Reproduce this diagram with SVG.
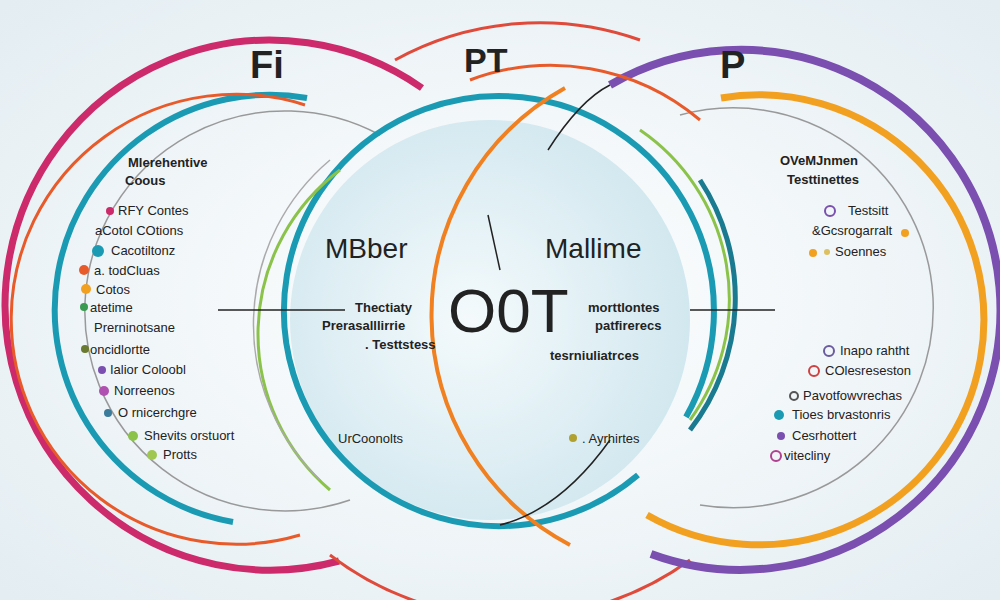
<svg xmlns="http://www.w3.org/2000/svg" width="1000" height="600" viewBox="0 0 1000 600">
<defs>
<radialGradient id="bg" cx="0.5" cy="0.5" r="0.7"><stop offset="0" stop-color="#ffffff"/><stop offset="1" stop-color="#e3edf2"/></radialGradient>
<radialGradient id="mid" cx="0.45" cy="0.5" r="0.6"><stop offset="0" stop-color="#f4fafc"/><stop offset="1" stop-color="#cfe6ee"/></radialGradient>
<style>
.t{font-family:"Liberation Sans",Arial,sans-serif;fill:#222}
.s{font-size:13px}
.h{font-size:13px;font-weight:bold}
.b{font-size:28px}
.r{fill:none}
</style>
</defs>
<rect width="1000" height="600" fill="url(#bg)"/>
<g id="connectors">
<circle cx="490" cy="320" r="200" fill="url(#mid)"/>
<path class="r" d="M422 88 A265 265 0 1 0 339 561" stroke="#cc2a6a" stroke-width="7"/>
<path class="r" d="M307 98 A215 215 0 1 0 233 522" stroke="#1a9bb3" stroke-width="6"/>
<path class="r" d="M305 105 A225 225 0 1 0 300 535" stroke="#e85a2a" stroke-width="3"/>
<path class="r" d="M380 135 A200 200 0 1 0 350 500" stroke="#999" stroke-width="1.5"/>
<path class="r" d="M395 60 A300 300 0 0 1 640 40" stroke="#e04a3a" stroke-width="3"/>
<path class="r" d="M330 555 A300 300 0 0 0 690 560" stroke="#e04a3a" stroke-width="3"/>
<path class="r" d="M610 85 A260 260 0 1 1 651 554" stroke="#7a4fb0" stroke-width="8"/>
<path class="r" d="M721 98 A225 225 0 1 1 647 515" stroke="#f2a020" stroke-width="7"/>
<path class="r" d="M680 115 A200 200 0 1 1 700 505" stroke="#999" stroke-width="1.5"/>
<path class="r" d="M686 417 A215 215 0 1 0 638 475" stroke="#1a9bb3" stroke-width="6"/>
<path class="r" d="M340 170 A205 205 0 0 0 330 490" stroke="#8bc34a" stroke-width="3"/>
<path class="r" d="M330 160 A215 215 0 0 0 320 480" stroke="#aaa" stroke-width="1.5"/>
<path class="r" d="M565 88 A260 260 0 0 0 570 545" stroke="#f08020" stroke-width="4"/>
<path class="r" d="M700 180 A215 215 0 0 1 690 430" stroke="#1a7a90" stroke-width="5"/>
<path class="r" d="M640 130 A205 205 0 0 1 690 420" stroke="#8bc34a" stroke-width="3"/>
<path class="r" d="M470 80 A230 230 0 0 1 700 120" stroke="#e85a2a" stroke-width="3"/>
<line x1="218" y1="310" x2="345" y2="310" stroke="#222" stroke-width="1.5"/>
<line x1="690" y1="310" x2="775" y2="310" stroke="#222" stroke-width="1.5"/>
<path d="M548 150 Q580 100 610 85" class="r" stroke="#222" stroke-width="1.5"/>
<path d="M500 525 Q560 510 610 440" class="r" stroke="#222" stroke-width="1.5"/>
<path d="M488 215 L500 270" class="r" stroke="#222" stroke-width="1.5"/>
</g>
<g id="titles">
<text class="t" x="250" y="78" font-size="38" font-weight="bold">Fi</text>
<text class="t" x="464" y="72" font-size="34" font-weight="bold">PT</text>
<text class="t" x="720" y="78" font-size="38" font-weight="bold">P</text>
</g>
<g id="center">
<text class="t b" x="325" y="258">MBber</text>
<text class="t b" x="545" y="258">Mallime</text>
<text class="t" x="448" y="332" font-size="62">O0T</text>
<text class="t h" x="355" y="312">Thectiaty</text>
<text class="t h" x="322" y="330">Prerasalllirrie</text>
<text class="t h" x="365" y="349">. Testtstess</text>
<text class="t h" x="588" y="312">morttlontes</text>
<text class="t h" x="595" y="330">patfirerecs</text>
<text class="t h" x="550" y="360">tesrniuliatrces</text>
<text class="t s" x="338" y="443">UrCoonolts</text>
<circle cx="573" cy="438" r="4" fill="#b0a030"/>
<text class="t s" x="582" y="443">. Ayrhirtes</text>
</g>
<g id="left-list">
<text class="t h" x="128" y="167">Mlerehentive</text>
<text class="t h" x="125" y="185">Coous</text>
<circle cx="110" cy="211" r="4" fill="#cc2a6a"/><text class="t s" x="118" y="215">RFY Contes</text>
<text class="t s" x="95" y="235">aCotol COtions</text>
<circle cx="98" cy="251" r="6" fill="#1a9bb3"/><text class="t s" x="111" y="255">Cacotiltonz</text>
<circle cx="84" cy="270" r="5" fill="#e85a2a"/><text class="t s" x="94" y="275">a.  todCluas</text>
<circle cx="86" cy="289" r="5" fill="#f2a020"/><text class="t s" x="96" y="294">Cotos</text>
<circle cx="84" cy="307" r="4" fill="#3a9a50"/><text class="t s" x="90" y="312">atetime</text>
<text class="t s" x="94" y="332">Prerninotsane</text>
<circle cx="85" cy="349" r="4" fill="#6a7a30"/><text class="t s" x="90" y="354">oncidlortte</text>
<circle cx="102" cy="370" r="4" fill="#7a4fb0"/><text class="t s" x="110" y="374">Ialior Coloobl</text>
<circle cx="104" cy="391" r="5" fill="#b050b0"/><text class="t s" x="114" y="395">Norreenos</text>
<circle cx="108" cy="413" r="4" fill="#3a7a9a"/><text class="t s" x="118" y="417">O rnicerchgre</text>
<circle cx="133" cy="436" r="5" fill="#8bc34a"/><text class="t s" x="144" y="440">Shevits orstuort</text>
<circle cx="152" cy="455" r="5" fill="#a0c850"/><text class="t s" x="163" y="459">Protts</text>
</g>
<g id="right-list">
<text class="t h" x="780" y="165">OVeMJnmen</text>
<text class="t h" x="787" y="184">Testtinettes</text>
<circle cx="830" cy="211" r="5" fill="none" stroke="#7a4fb0" stroke-width="2"/><text class="t s" x="848" y="215">Testsitt</text>
<text class="t s" x="812" y="235">&amp;Gcsrogarralt</text><circle cx="905" cy="233" r="4" fill="#f2a020"/>
<circle cx="813" cy="253" r="4" fill="#f2a020"/><circle cx="827" cy="252" r="3" fill="#ddc060"/><text class="t s" x="835" y="256">Soennes</text>
<circle cx="829" cy="351" r="5" fill="none" stroke="#6a5aa0" stroke-width="2"/><text class="t s" x="840" y="355">Inapo rahtht</text>
<circle cx="814" cy="371" r="5" fill="none" stroke="#d04040" stroke-width="2"/><text class="t s" x="825" y="375">COlesreseston</text>
<circle cx="794" cy="396" r="4" fill="none" stroke="#555" stroke-width="2"/><text class="t s" x="803" y="400">Pavotfowvrechas</text>
<circle cx="779" cy="415" r="5" fill="#1a9bb3"/><text class="t s" x="792" y="419">Tioes brvastonris</text>
<circle cx="781" cy="436" r="4" fill="#7a4fb0"/><text class="t s" x="792" y="440">Cesrhottert</text>
<circle cx="776" cy="456" r="5" fill="none" stroke="#b04090" stroke-width="2"/><text class="t s" x="784" y="460">vitecliny</text>
</g>
</svg>
